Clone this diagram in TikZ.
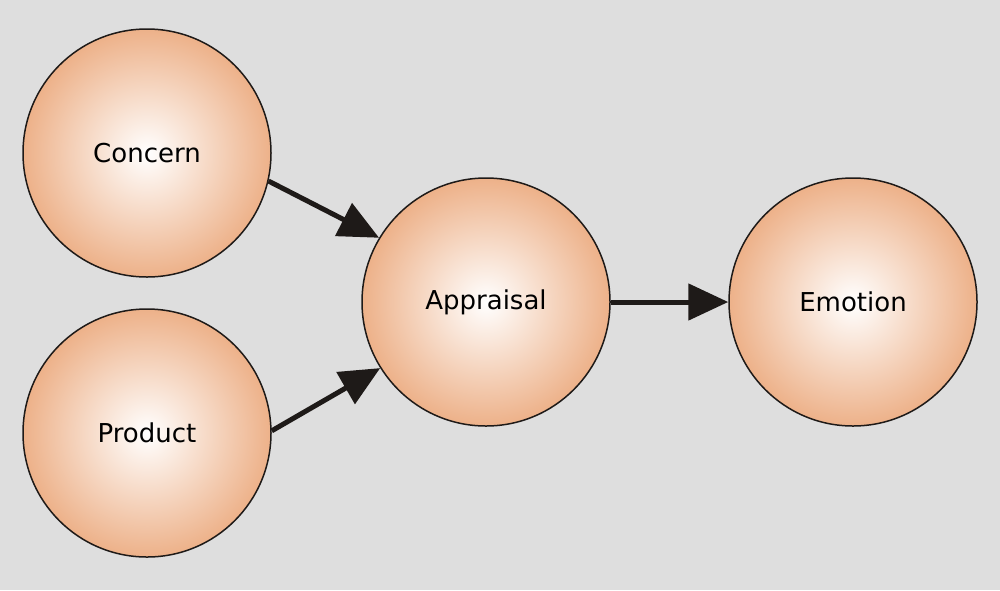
\documentclass[tikz,border=0pt]{standalone}
\usepackage{fontspec}
\setmainfont{DejaVu Sans}
\usetikzlibrary{arrows.meta,positioning}
\definecolor{bggray}{HTML}{DEDEDE}
\definecolor{peach}{HTML}{EDB189}
\definecolor{arrowblk}{HTML}{1E1A18}
\tikzset{
    stage/.style={circle, draw=arrowblk, line width=1.5pt, minimum size=248pt,
        inner color=white, outer color=peach, font=\fontsize{26}{30}\selectfont},
    flow/.style={draw=arrowblk, line width=5pt, -{Triangle[length=40pt,width=36pt]}}
}
\begin{document}
\begin{tikzpicture}[x=1pt,y=-1pt]
    \fill[bggray] (0,0) rectangle (1000,590);
    \useasboundingbox (0,0) rectangle (1000,590);

    \node[stage] (concern) at (147,153) {Concern};
    \node[stage] (product) at (147,433) {Product};
    \node[stage] (appraisal) at (486,302) {Appraisal};
    \node[stage] (emotion) at (853,302) {Emotion};

    \draw[flow] (concern.-13) -- (appraisal.149);
    \draw[flow] (product.1) -- (appraisal.212);
    \draw[flow] (appraisal.east) -- (emotion.west);
\end{tikzpicture}
\end{document}
